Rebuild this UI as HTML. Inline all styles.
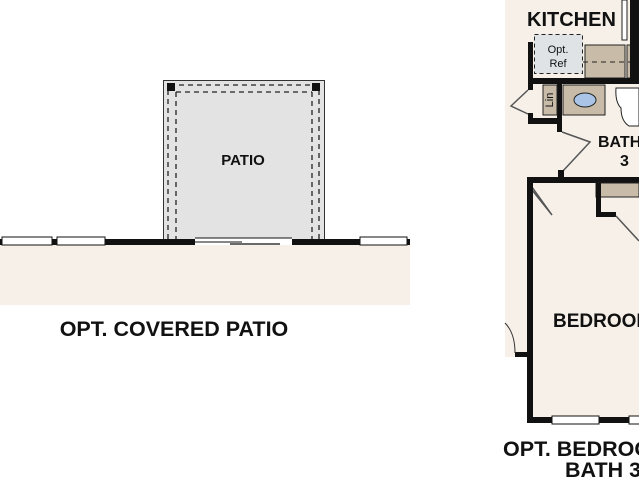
<!DOCTYPE html>
<html><head><style>
html,body{margin:0;padding:0;background:#fff;width:639px;height:480px;overflow:hidden}
text{font-family:"Liberation Sans",sans-serif;font-weight:bold;fill:#111}
</style></head><body>
<svg width="639" height="480" viewBox="0 0 639 480" xmlns="http://www.w3.org/2000/svg">
<!-- LEFT: patio -->
<rect x="0" y="244" width="410" height="61" fill="#f6f0e8"/>
<rect x="163.5" y="80.5" width="161" height="161" fill="#e3e3e3" stroke="#333" stroke-width="1"/>
<g stroke="#222" stroke-width="1.3" stroke-dasharray="5,4" fill="none">
<line x1="170" y1="85" x2="318" y2="85"/>
<line x1="176" y1="92" x2="312" y2="92"/>
<line x1="168" y1="90" x2="168" y2="240"/>
<line x1="176" y1="92" x2="176" y2="240"/>
<line x1="312" y1="92" x2="312" y2="240"/>
<line x1="319" y1="90" x2="319" y2="240"/>
</g>
<rect x="167" y="83" width="8" height="8" fill="#111"/>
<rect x="312" y="83" width="8" height="8" fill="#111"/>
<rect x="0" y="239" width="410" height="6" fill="#111"/>
<rect x="2" y="237" width="50" height="8" fill="#fff" stroke="#111" stroke-width="1"/>
<rect x="57" y="237" width="48" height="8" fill="#fff" stroke="#111" stroke-width="1"/>
<rect x="360" y="237" width="47" height="8" fill="#fff" stroke="#111" stroke-width="1"/>
<rect x="195" y="238" width="97" height="7" fill="#fff"/>
<line x1="195" y1="238" x2="292" y2="238" stroke="#111" stroke-width="1"/>
<line x1="195" y1="242" x2="242" y2="242" stroke="#111" stroke-width="1"/>
<line x1="230" y1="244" x2="280" y2="244" stroke="#111" stroke-width="1.3"/>
<text x="243" y="165" font-size="15" text-anchor="middle">PATIO</text>
<text x="174" y="336" font-size="21.5" text-anchor="middle">OPT. COVERED PATIO</text>

<!-- RIGHT: bedroom/bath -->
<rect x="505" y="0" width="134" height="357" fill="#f6f0e8"/>
<rect x="528" y="357" width="111" height="63" fill="#f6f0e8"/>
<text x="527" y="26" font-size="20">KITCHEN</text>
<rect x="534.5" y="34.5" width="48" height="39" fill="#dfe3e6" stroke="#222" stroke-dasharray="4,3"/>
<text x="558" y="53" font-size="11" text-anchor="middle" style="font-weight:normal">Opt.</text>
<text x="558" y="67" font-size="11" text-anchor="middle" style="font-weight:normal">Ref</text>
<rect x="585" y="45" width="40" height="33" fill="#c8bca9" stroke="#222" stroke-width="1"/>
<rect x="627" y="45" width="12" height="33" fill="#c8bca9" stroke="#222" stroke-width="1"/>
<line x1="583" y1="62" x2="639" y2="62" stroke="#222" stroke-dasharray="5,4"/>
<rect x="622" y="0" width="5" height="40" fill="#fff" stroke="#222"/>
<rect x="630" y="0" width="9" height="80" fill="#111"/>
<rect x="528" y="78" width="111" height="6" fill="#111"/>
<rect x="528" y="42" width="5" height="48" fill="#111"/>
<rect x="528" y="113" width="5" height="10" fill="#111"/>
<rect x="528" y="118" width="34" height="6" fill="#111"/>
<rect x="557" y="84" width="5" height="48" fill="#111"/>
<rect x="543" y="85" width="14" height="30" fill="#c8bca9" stroke="#222" stroke-width="1"/>
<text x="550" y="100" font-size="11" text-anchor="middle" dominant-baseline="central" transform="rotate(-90 550 100)" style="font-weight:normal">Lin</text>
<rect x="563" y="85" width="42" height="30" fill="#c8bca9" stroke="#222" stroke-width="1"/>
<ellipse cx="585" cy="100" rx="11" ry="7" fill="#a9c4e6" stroke="#222"/>
<path d="M616 88 h23 v38 h-10 q-8 -5 -8 -18 q-6 -6 -5 -20z" fill="#fff" stroke="#222"/>
<path d="M528 90 l-17 16 l17 8" fill="none" stroke="#555" stroke-width="1.5"/>
<path d="M562 172 l28 -30 l-28 -10" fill="none" stroke="#555" stroke-width="1.5"/>
<text x="598" y="147" font-size="16">BATH</text>
<text x="620" y="166" font-size="16">3</text>
<rect x="528" y="177" width="111" height="6" fill="#111"/>
<rect x="558" y="170" width="6" height="10" fill="#111"/>
<rect x="596" y="183" width="43" height="14" fill="#c8bca9" stroke="#222"/>
<rect x="596" y="183" width="5" height="32" fill="#111"/>
<rect x="596" y="212" width="20" height="5" fill="#111"/>
<path d="M532 187 l20 28 l-20 -25" fill="none" stroke="#555" stroke-width="1.5"/>
<path d="M616 216 l23 25" fill="none" stroke="#555" stroke-width="1.5"/>
<rect x="527" y="177" width="6" height="245" fill="#111"/>
<rect x="515" y="352" width="13" height="5" fill="#111"/>
<path d="M505 323 q10 10 10 30" fill="none" stroke="#333"/>
<rect x="527" y="417" width="112" height="6" fill="#111"/>
<rect x="552" y="416" width="47" height="8" fill="#fff" stroke="#111"/>
<rect x="629" y="416" width="12" height="8" fill="#fff" stroke="#111"/>
<text x="553" y="327" font-size="19">BEDROOM</text>
<text x="503" y="456" font-size="21.5">OPT. BEDROOM</text>
<text x="565" y="477" font-size="21.5">BATH 3</text>
</svg>
</body></html>
